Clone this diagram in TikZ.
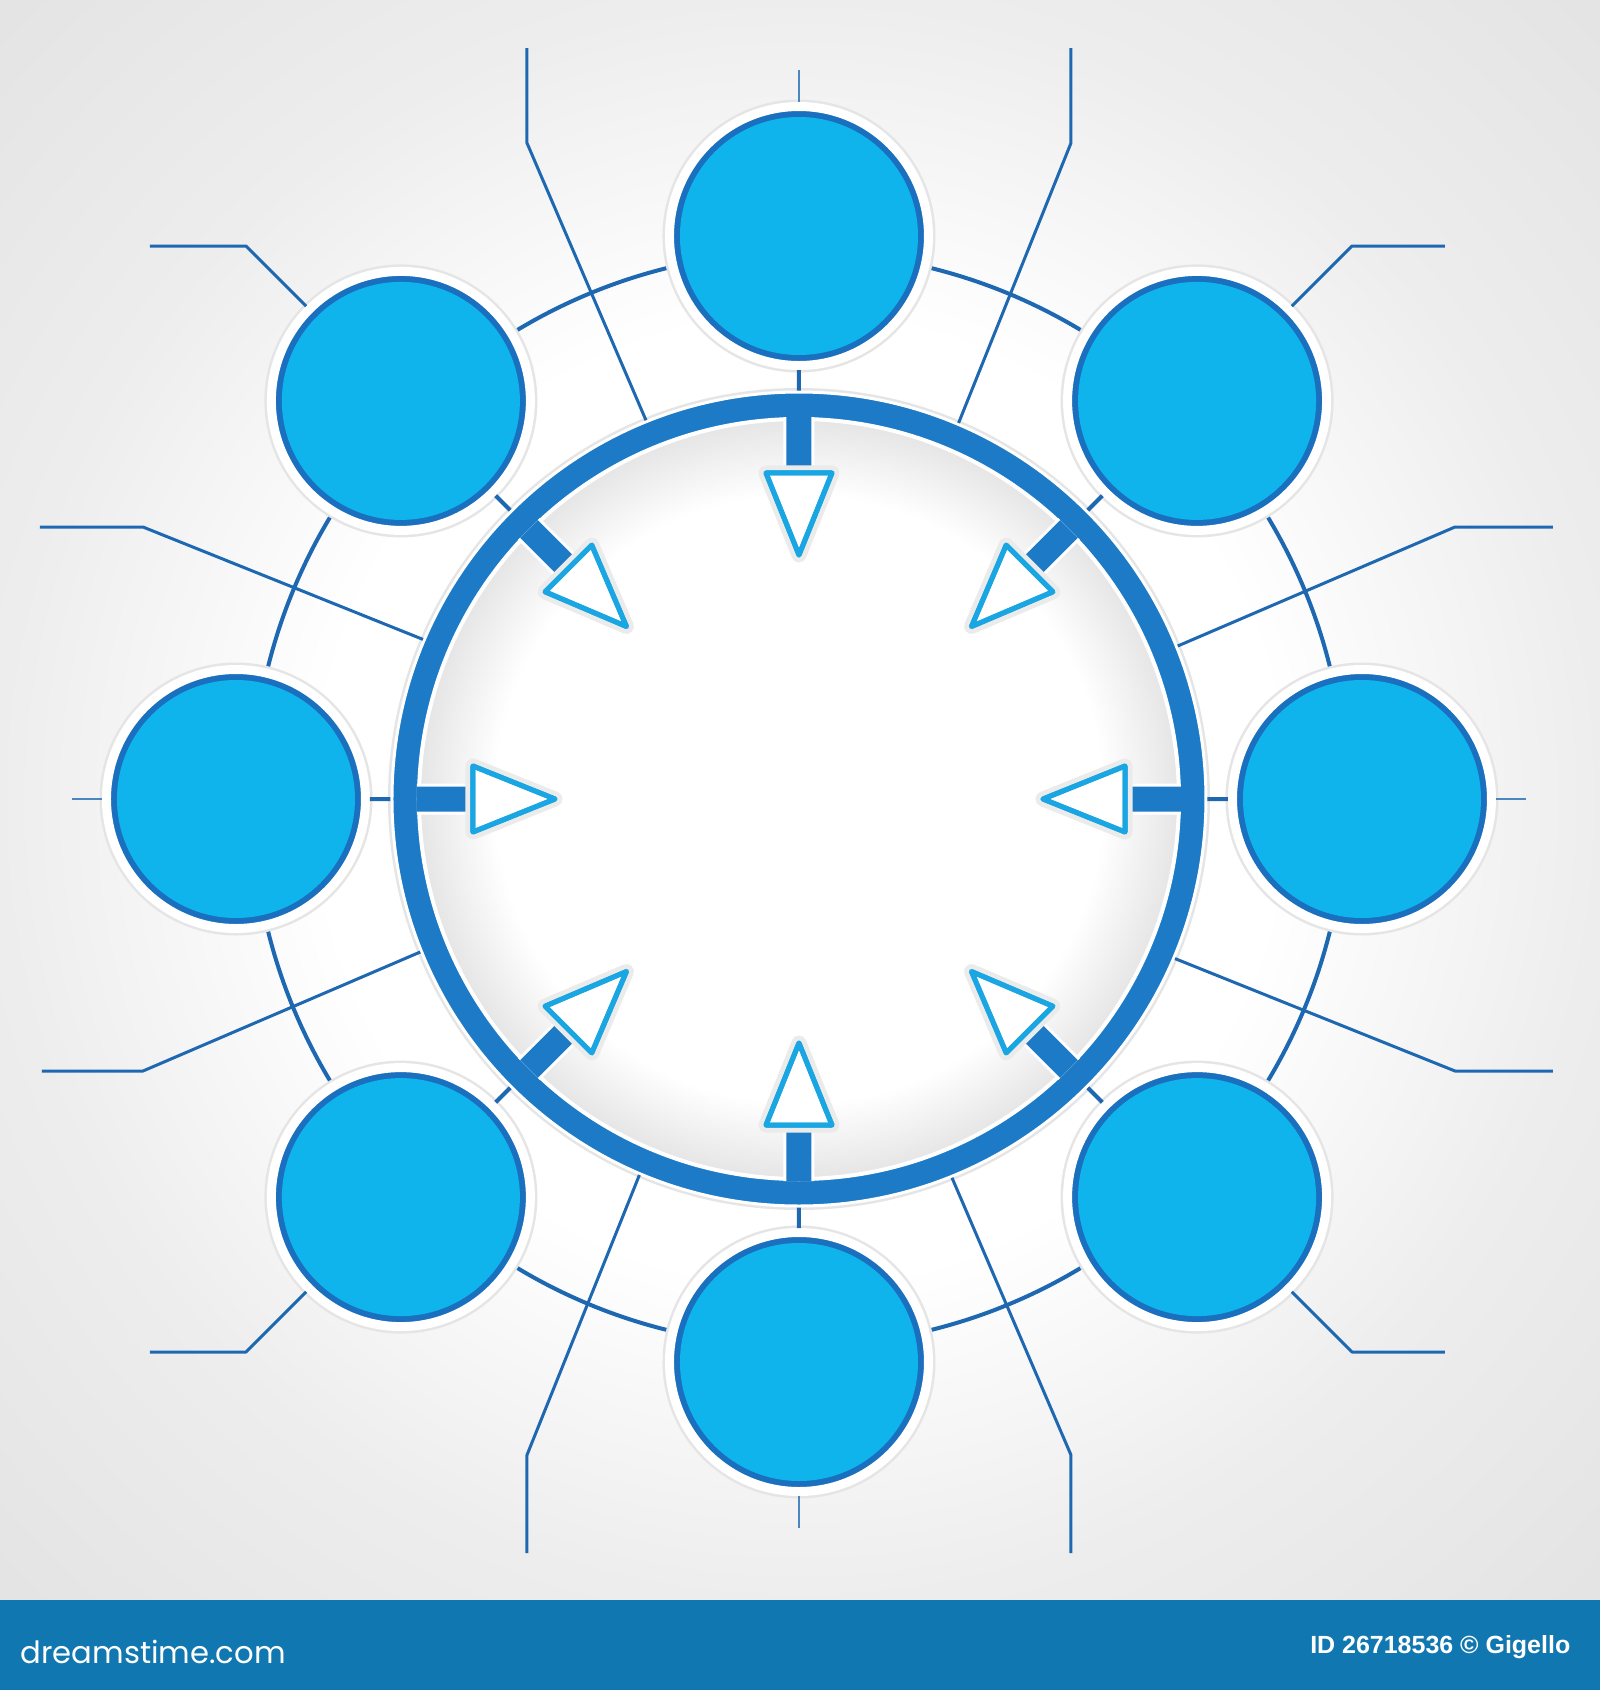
\documentclass[tikz,border=0pt]{standalone}
\usepackage{fontspec}
\usepackage{tikz}
\newfontfamily\logofont{Poppins}
\newfontfamily\idfont{Liberation Sans}
\definecolor{boxblue}{RGB}{16,180,236}
\definecolor{rimblue}{RGB}{26,112,190}
\definecolor{ringblue}{RGB}{29,122,198}
\definecolor{lineblue}{RGB}{30,104,178}
\definecolor{tipblue}{RGB}{25,166,226}
\definecolor{footblue}{RGB}{16,119,176}
\pgfdeclareradialshading{backfade}{\pgfpoint{0bp}{0bp}}{color(0bp)=(white); color(15bp)=(white);
    color(25bp)=(black!7); color(36bp)=(black!11); color(50bp)=(black!11)}
\pgfdeclareradialshading{facefade}{\pgfpoint{0bp}{0bp}}{color(0bp)=(white); color(20bp)=(white);
    color(25bp)=(black!10); color(50bp)=(black!10)}

\begin{document}
\begin{tikzpicture}[
    item/.style={circle, minimum size=2.59cm, inner sep=0pt, fill=rimblue, draw=white, line width=0.09cm,
                 preaction={draw=black!10, line width=0.14cm},
                 path picture={\fill[boxblue] (path picture bounding box.center) circle (1.19);}},
    lead/.style={lineblue, line width=0.03cm, line join=round},
    stub/.style={lineblue, line width=0.04cm},
    stem/.style={draw=ringblue, line width=0.25cm, preaction={draw=white, line width=0.31cm}},
    tip/.style={draw=tipblue, fill=white, line width=0.05cm, line join=round,
                preaction={draw=black!8, line width=0.15cm, line join=round},
                postaction={draw=tipblue, line width=0.05cm}}
]
    \useasboundingbox (-7.99,-8.91) rectangle (8.01,7.99);
    %% background
    \shade[shading=backfade] (-7.99,-8.01) rectangle (8.01,7.99);
    \draw[lineblue, line width=0.04cm] (0,0) circle (5.47);

    %% hub with the ring
    \node[circle, minimum size=8.14cm, inner sep=0pt, fill=ringblue, draw=white, line width=0.03cm,
          preaction={draw=black!10, line width=0.08cm}] (hub) at (0,0) {};
    \node[circle, minimum size=7.60cm, inner sep=0pt, shading=facefade,
          draw=white, line width=0.04cm] (face) at (0,0) {};

    %% arrows into the hub
    \draw[stem] (0:3.82) -- (0:3.24)     (45:3.82) -- (45:3.24)
                (90:3.82) -- (90:3.24)   (135:3.82) -- (135:3.24)
                (180:3.82) -- (180:3.24) (225:3.82) -- (225:3.24)
                (270:3.82) -- (270:3.24) (315:3.82) -- (315:3.24);
    \draw[tip] (5.78:3.277) -- (-5.78:3.277) -- (0:2.44) -- cycle
               (50.78:3.277) -- (39.22:3.277) -- (45:2.44) -- cycle
               (95.78:3.277) -- (84.22:3.277) -- (90:2.44) -- cycle
               (140.78:3.277) -- (129.22:3.277) -- (135:2.44) -- cycle
               (185.78:3.277) -- (174.22:3.277) -- (180:2.44) -- cycle
               (230.78:3.277) -- (219.22:3.277) -- (225:2.44) -- cycle
               (275.78:3.277) -- (264.22:3.277) -- (270:2.44) -- cycle
               (320.78:3.277) -- (309.22:3.277) -- (315:2.44) -- cycle;

    %% the eight boxes
    \node[item] (n) at (90:5.63) {};
    \node[item] (ne) at (45:5.63) {};
    \node[item] (e) at (0:5.63) {};
    \node[item] (se) at (-45:5.63) {};
    \node[item] (s) at (-90:5.63) {};
    \node[item] (sw) at (-135:5.63) {};
    \node[item] (w) at (180:5.63) {};
    \node[item] (nw) at (135:5.63) {};

    %% bends and ends of the leaders
    \path (6.56,2.72) coordinate (b1) (7.54,2.72) coordinate (t1)
          (2.72,6.56) coordinate (b2) (2.72,7.51) coordinate (t2)
          (-2.72,6.56) coordinate (b3) (-2.72,7.51) coordinate (t3)
          (-6.56,2.72) coordinate (b4) (-7.59,2.72) coordinate (t4)
          (-6.56,-2.72) coordinate (b5) (-7.57,-2.72) coordinate (t5)
          (-2.72,-6.56) coordinate (b6) (-2.72,-7.54) coordinate (t6)
          (2.72,-6.56) coordinate (b7) (2.72,-7.54) coordinate (t7)
          (6.56,-2.72) coordinate (b8) (7.54,-2.72) coordinate (t8)
          (5.53,5.53) coordinate (dne) (6.46,5.53) coordinate (ene)
          (-5.53,5.53) coordinate (dnw) (-6.49,5.53) coordinate (enw)
          (-5.53,-5.53) coordinate (dsw) (-6.49,-5.53) coordinate (esw)
          (5.53,-5.53) coordinate (dse) (6.46,-5.53) coordinate (ese)
          (0,7.29) coordinate (kn) (0,-7.29) coordinate (ks)
          (7.27,0) coordinate (ke) (-7.27,0) coordinate (kw);

    \draw[lead] (hub.22.5) -- (b1) -- (t1)
                (hub.67.5) -- (b2) -- (t2)
                (hub.112.5) -- (b3) -- (t3)
                (hub.157.5) -- (b4) -- (t4)
                (hub.202.5) -- (b5) -- (t5)
                (hub.247.5) -- (b6) -- (t6)
                (hub.292.5) -- (b7) -- (t7)
                (hub.337.5) -- (b8) -- (t8)
                (ne.45) -- (dne) -- (ene)
                (nw.135) -- (dnw) -- (enw)
                (sw.225) -- (dsw) -- (esw)
                (se.315) -- (dse) -- (ese);
    \draw[lineblue!80, line width=0.02cm] (n.north) -- (kn) (s.south) -- (ks)
                                          (e.east) -- (ke) (w.west) -- (kw);
    \draw[stub] (n.south) -- (hub.90) (ne.225) -- (hub.45)
                (e.west) -- (hub.0) (se.135) -- (hub.-45)
                (s.north) -- (hub.-90) (sw.45) -- (hub.-135)
                (w.east) -- (hub.180) (nw.-45) -- (hub.135);

    %% footer
    \fill[footblue] (-7.99,-8.91) rectangle (8.01,-8.01);
    \node[anchor=base west, inner sep=0pt, text=white] (logo) at (-7.79,-8.64)
        {\resizebox{2.65cm}{!}{\logofont dreamstime.com}};
    \node[anchor=base east, inner sep=0pt, text=white] (credit) at (7.72,-8.54)
        {\resizebox{2.60cm}{0.18cm}{\idfont\bfseries ID 26718536 © Gigello}};
\end{tikzpicture}
\end{document}
